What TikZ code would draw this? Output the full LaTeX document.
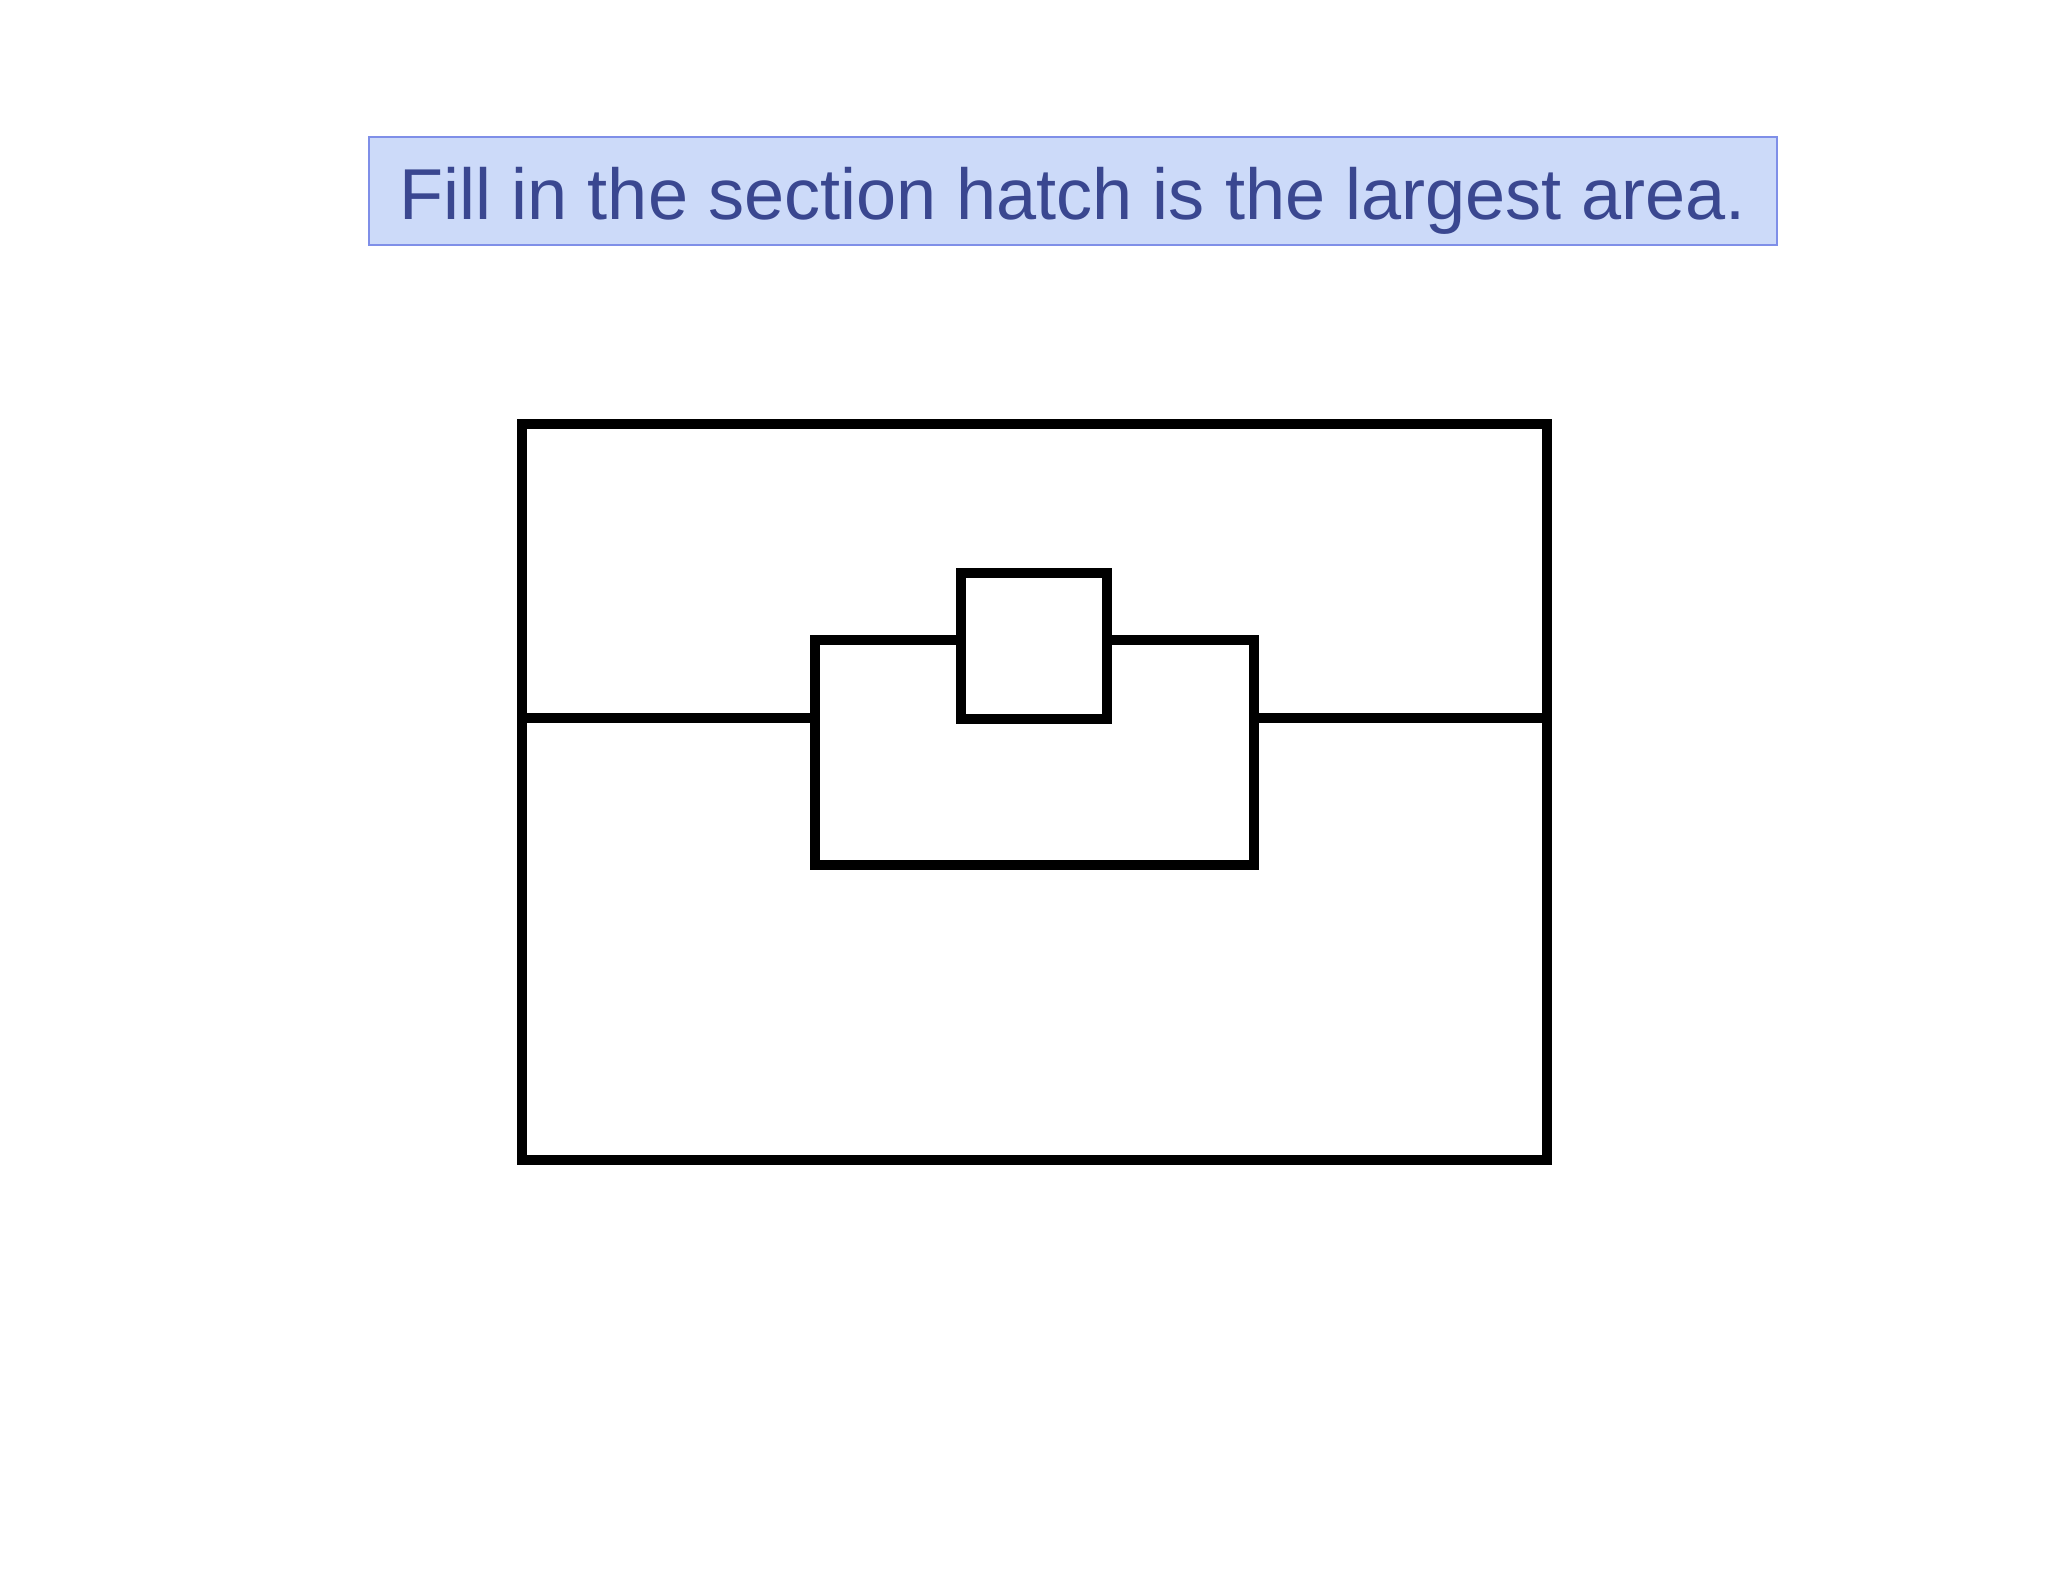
\documentclass[tikz,border=0pt]{standalone}
\usepackage{fontspec}
\setmainfont{Liberation Sans}
\usetikzlibrary{positioning}
\definecolor{boxfill}{HTML}{CCDAF9}
\definecolor{boxline}{HTML}{7F8FE8}
\definecolor{boxtext}{HTML}{3A4790}
\newcommand{\titlefont}{\fontsize{20.5pt}{24pt}\selectfont\spaceskip=0.278em\relax}
\begin{document}
\begin{tikzpicture}[x=0.01cm,y=-0.01cm,
    titlebox/.style={draw=boxline,fill=boxfill,line width=0.6pt,text=boxtext,
      inner xsep=0pt,inner ysep=0pt,minimum width=14.07cm,
      text height=0.82cm,text depth=0.26cm,anchor=north west,font=\titlefont},
    wall/.style={draw=black,line width=0.1cm}]
  \useasboundingbox (0,0) rectangle (2048,1582);
  \node[titlebox] (title) at (368,136) {Fill in the section hatch is the largest area.};
  % outer frame and section line
  \draw[wall] (522,424) rectangle (1547,1160);
  \draw[wall] (522,718) -- (815,718);
  \draw[wall] (1254,718) -- (1547,718);
  % middle part
  \draw[wall] (961,640) -- (815,640) -- (815,865) -- (1254,865) -- (1254,640) -- (1107,640);
  % top square
  \draw[wall] (961,573) rectangle (1107,719);
\end{tikzpicture}
\end{document}
